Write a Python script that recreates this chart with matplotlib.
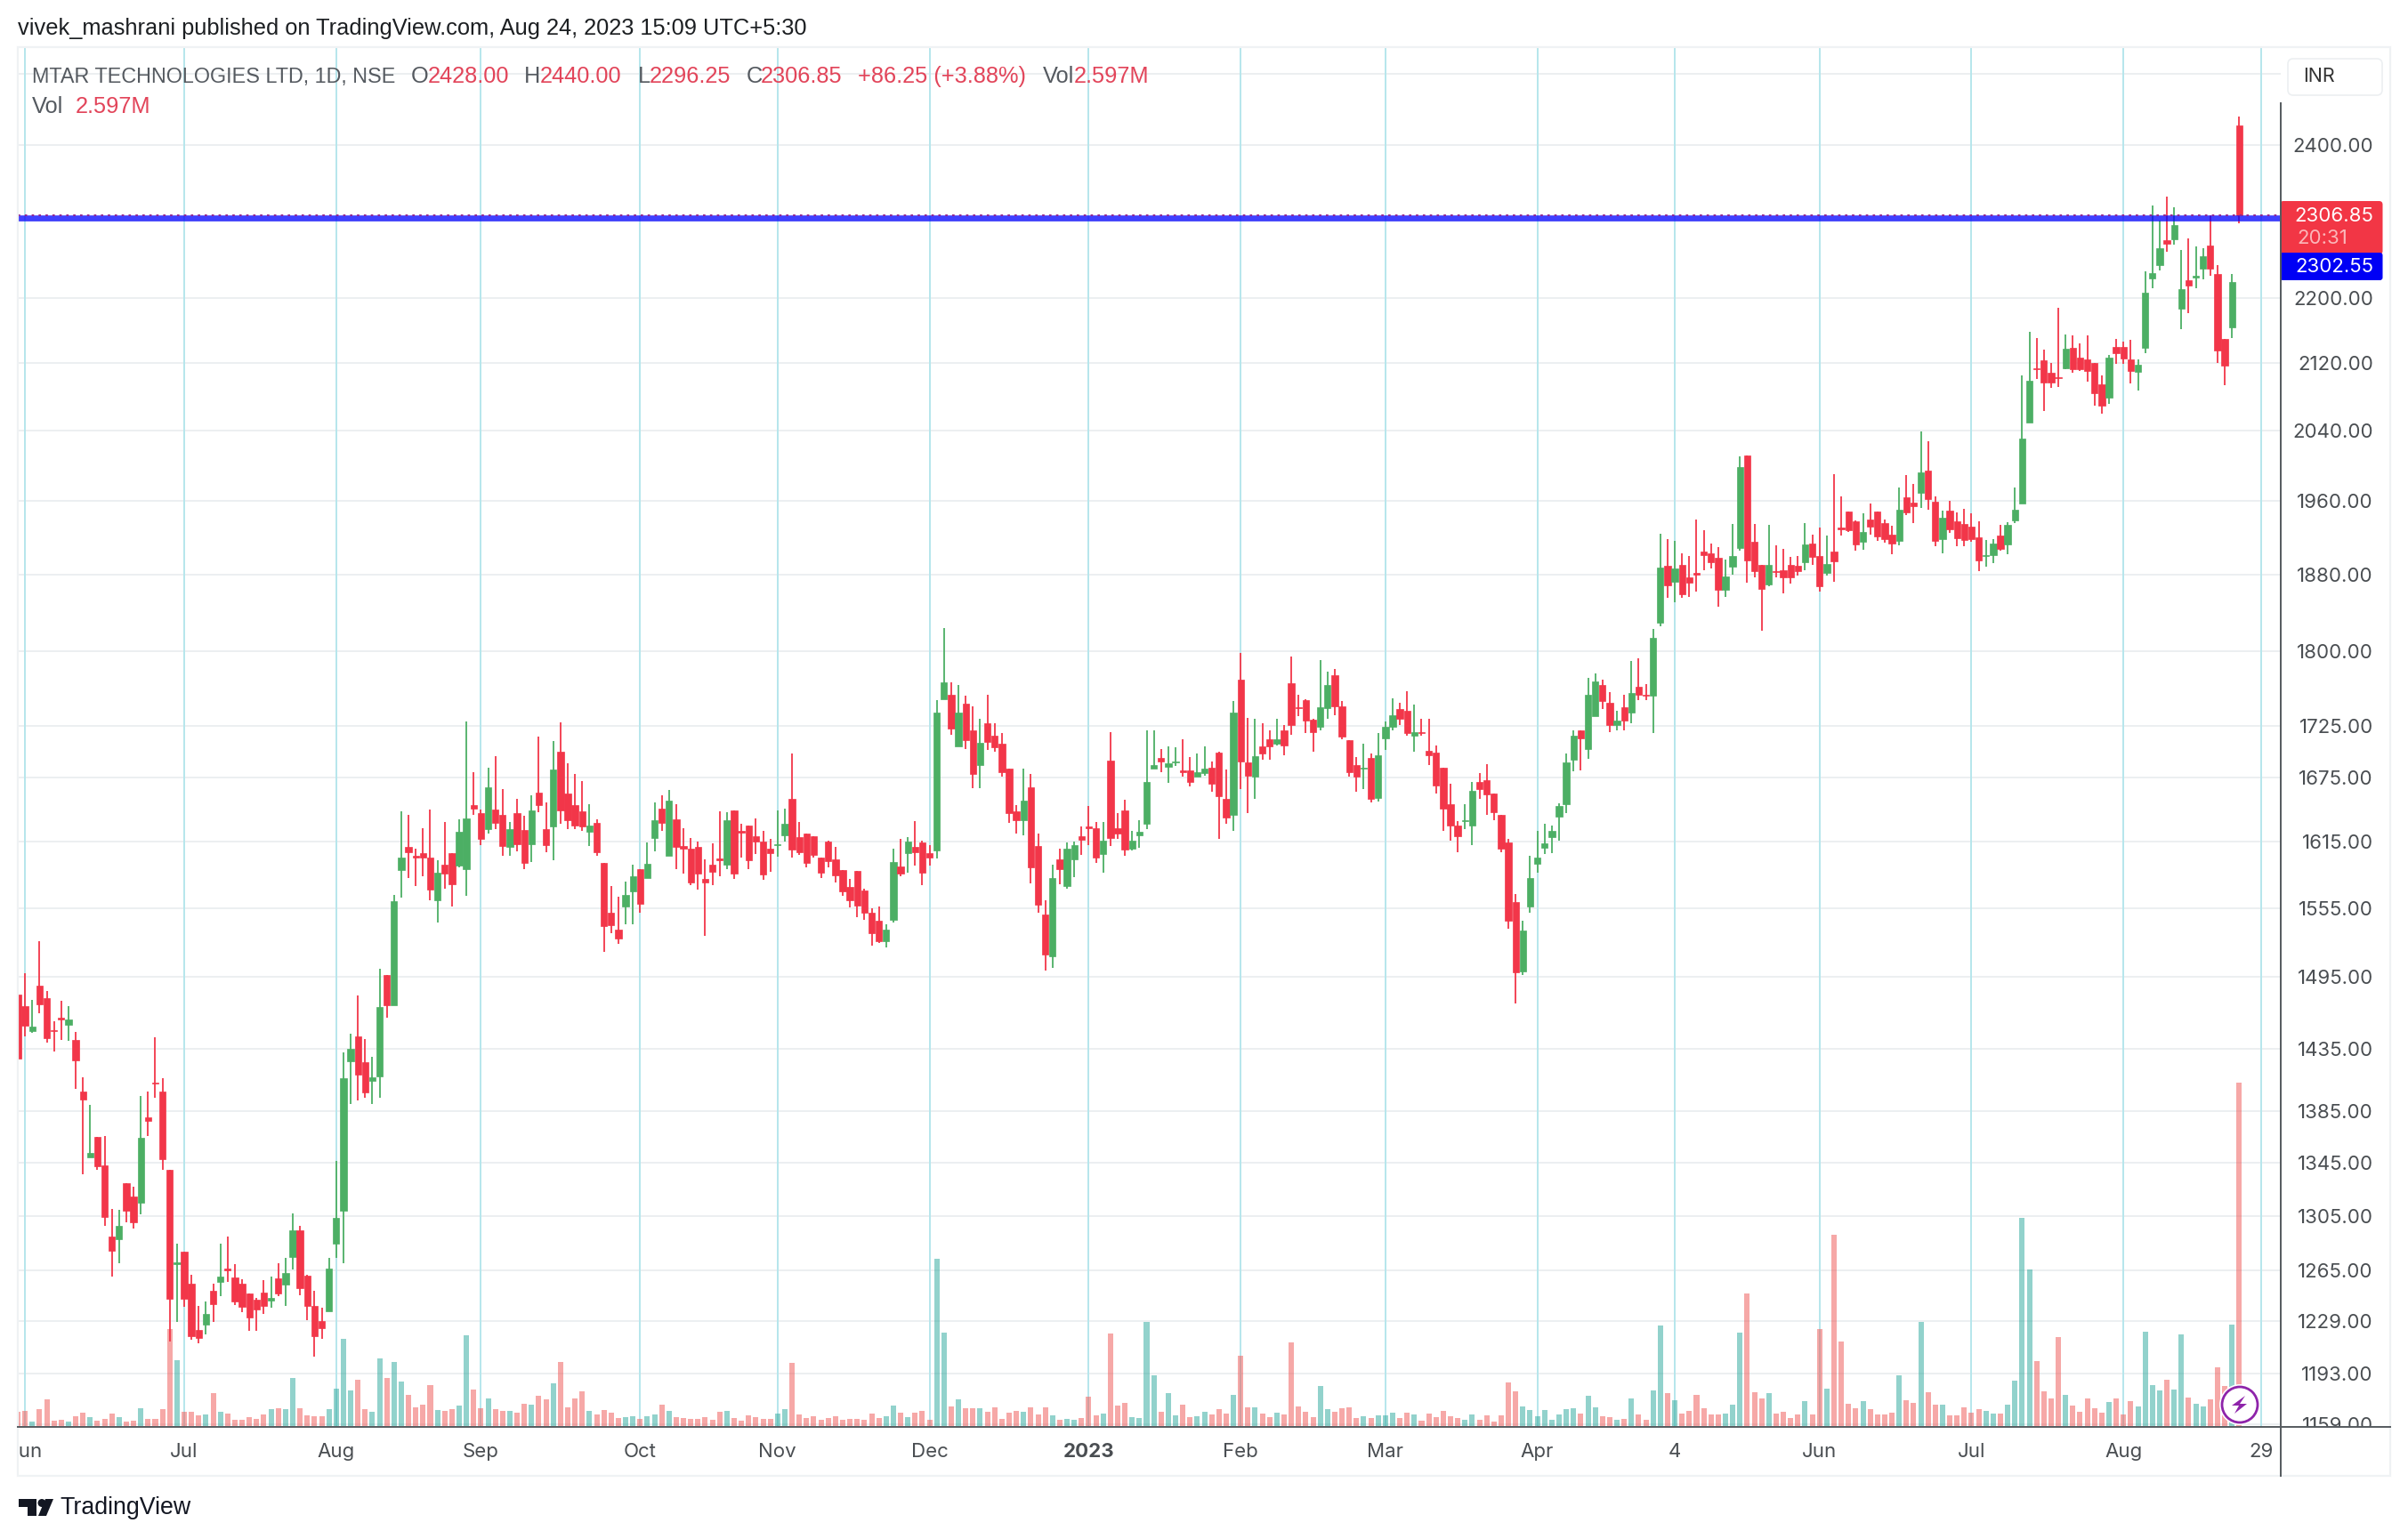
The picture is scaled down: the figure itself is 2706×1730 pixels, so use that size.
import matplotlib
matplotlib.use('Agg')
import matplotlib.pyplot as plt
from matplotlib.patches import Circle, FancyBboxPatch, Polygon, Rectangle
from matplotlib.ticker import NullLocator
from matplotlib.transforms import Bbox

# Daily prices, oldest first.
opens = [1480, 1470.5, 1450, 1487.5, 1477, 1450.5, 1460.5, 1455, 1442.5, 1400.5,
         1349, 1365, 1343, 1290, 1288, 1329.5, 1319.5, 1315, 1380, 1408,
         1400.5, 1339.5, 1269.5, 1279, 1255.5, 1223, 1226.5, 1250.5, 1257, 1266.5,
         1260, 1255.5, 1248.5, 1244, 1249, 1243.5, 1259.5, 1255, 1275, 1294,
         1261.5, 1240, 1229, 1236, 1284.5, 1309, 1425, 1445.5, 1424.5, 1409.5,
         1412.5, 1497, 1471, 1589, 1610, 1601.5, 1604.5, 1600.5, 1562, 1594,
         1604.5, 1593, 1589.5, 1649, 1641.5, 1626.5, 1644.5, 1639.5, 1610, 1641.5,
         1625.5, 1612.5, 1660.5, 1626.5, 1628.5, 1699.5, 1659.5, 1649, 1643, 1624,
         1632, 1595.5, 1551, 1536, 1556, 1570, 1590, 1582, 1618.5, 1645.5,
         1601.5, 1635.5, 1610.5, 1608.5, 1610, 1581, 1594, 1599.5, 1594, 1644,
         1624.5, 1629.5, 1620, 1615, 1608.5, 1611.5, 1621, 1655, 1619, 1622.5,
         1620, 1600, 1615, 1599, 1589, 1574, 1588, 1570.5, 1551, 1544,
         1525.5, 1544.5, 1592.5, 1604, 1610, 1614, 1604.5, 1606.5, 1751, 1755.5,
         1704.5, 1746.5, 1720, 1686.5, 1727, 1715.5, 1707.5, 1683.5, 1643, 1634.5,
         1665.5, 1611, 1549, 1513, 1599, 1574.5, 1598.5, 1620, 1628.5, 1627.5,
         1603.5, 1691, 1627.5, 1644, 1608.5, 1620.5, 1631, 1683, 1694, 1685,
         1689, 1681.5, 1681.5, 1675.5, 1679.5, 1684, 1699, 1655, 1640, 1770.5,
         1689, 1676, 1705, 1712, 1707.5, 1720.5, 1767, 1743.5, 1750, 1730.5,
         1724, 1742.5, 1775, 1744, 1710.5, 1687, 1683.5, 1694, 1655.5, 1712.5,
         1723.5, 1741, 1740, 1715, 1719, 1700.5, 1699, 1684, 1650, 1630,
         1634, 1629.5, 1670.5, 1672, 1660, 1640, 1614, 1560, 1500, 1556,
         1594.5, 1609.5, 1619, 1638, 1649.5, 1692, 1720, 1702.5, 1734, 1765,
         1748, 1725.5, 1743, 1737.5, 1764, 1756, 1754.5, 1829, 1889.5, 1872.5,
         1890.5, 1877, 1881.5, 1905, 1903, 1897.5, 1864, 1888, 1908.5, 2011.5,
         1915, 1890.5, 1869, 1884, 1884.5, 1890.5, 1889.5, 1893.5, 1913, 1899.5,
         1882, 1905, 1930.5, 1949, 1937.5, 1915.5, 1939.5, 1948.5, 1935.5, 1923,
         1916, 1964, 1958.5, 1969.5, 1994.5, 1959, 1918, 1950, 1937.5, 1934.5,
         1931.5, 1920, 1899.5, 1900.5, 1922, 1912.5, 1939, 1957.5, 2050, 2114.5,
         2123.5, 2108.5, 2103, 2114.5, 2138.5, 2126.5, 2124.5, 2120, 2094.5, 2079.5,
         2139.5, 2139.5, 2124.5, 2110, 2138.5, 2224.5, 2241.5, 2273.5, 2275, 2187,
         2223, 2226.5, 2237, 2267, 2231, 2149.5, 2164, 2428]
highs = [1480, 1498, 1476, 1526, 1483, 1458, 1475, 1470.5, 1449, 1412,
         1390, 1365, 1366, 1310, 1309.5, 1329.5, 1327, 1397, 1400.5, 1444.5,
         1411.5, 1339.5, 1284.5, 1279, 1262, 1240, 1243, 1255.5, 1284.5, 1289.5,
         1269.5, 1258.5, 1248.5, 1245.5, 1258, 1261, 1270, 1274, 1307, 1297.5,
         1262, 1250.5, 1238.5, 1274, 1346.5, 1432, 1447.5, 1479.5, 1443, 1428.5,
         1502, 1497, 1566.5, 1643, 1639.5, 1608.5, 1627, 1644.5, 1598, 1633,
         1604.5, 1635.5, 1729, 1680, 1644.5, 1684, 1695.5, 1664, 1633, 1654.5,
         1639, 1658, 1714.5, 1651.5, 1710, 1728, 1688.5, 1678, 1671.5, 1649.5,
         1635.5, 1595.5, 1574.5, 1565, 1578.5, 1594, 1590, 1614, 1651.5, 1658,
         1663, 1649.5, 1627, 1618, 1614.5, 1598.5, 1613, 1643, 1642, 1644,
         1631.5, 1629.5, 1636.5, 1625, 1617.5, 1644, 1645, 1697.5, 1633, 1622.5,
         1620, 1600, 1616, 1610, 1589, 1580.5, 1588, 1572, 1555, 1556.5,
         1540.5, 1608, 1617.5, 1619, 1634, 1616, 1612, 1750, 1823.5, 1768,
         1765, 1754.5, 1744.5, 1731.5, 1755.5, 1727.5, 1718, 1683.5, 1649, 1683.5,
         1678, 1622.5, 1562, 1594, 1608.5, 1614, 1615, 1629, 1647.5, 1633,
         1633, 1719, 1641.5, 1654, 1625, 1635, 1720, 1720, 1702.5, 1705,
         1704, 1712, 1694.5, 1697.5, 1705, 1690.5, 1700, 1682.5, 1749, 1797.5,
         1733, 1731.5, 1727.5, 1720, 1732, 1726, 1794.5, 1755.5, 1751, 1731.5,
         1790.5, 1778.5, 1782, 1749, 1710.5, 1694.5, 1707.5, 1697.5, 1718, 1729.5,
         1752, 1747.5, 1759, 1745.5, 1732, 1731.5, 1706, 1684, 1669, 1634,
         1650, 1670.5, 1679, 1687.5, 1660, 1640, 1617.5, 1567, 1544, 1601.5,
         1625, 1631.5, 1630, 1650.5, 1698, 1720, 1720, 1772.5, 1777.5, 1770.5,
         1758, 1740, 1755.5, 1790, 1792, 1766, 1823, 1924.5, 1918, 1916,
         1903, 1899.5, 1939.5, 1927.5, 1913, 1910, 1896.5, 1934.5, 2010.5, 2011.5,
         1934.5, 1890.5, 1933.5, 1911, 1908, 1898.5, 1899.5, 1935.5, 1923, 1930.5,
         1922, 1990, 1965, 1949, 1938.5, 1946.5, 1957, 1949, 1939.5, 1932.5,
         1975, 1989, 1979, 2039.5, 2028.5, 1965, 1950, 1960, 1948, 1952,
         1946.5, 1937.5, 1917, 1918, 1933.5, 1936.5, 1975, 2106, 2158, 2150.5,
         2136.5, 2121, 2188.5, 2155, 2154, 2144, 2154, 2120, 2105.5, 2130,
         2149.5, 2146, 2148.5, 2124.5, 2234.5, 2319, 2299.5, 2331, 2317, 2261,
         2276, 2266, 2263.5, 2307, 2241.5, 2149.5, 2231, 2440]
lows = [1414, 1445.5, 1448.5, 1464.5, 1440, 1433, 1442.5, 1442, 1402.5, 1336.5,
        1349, 1339.5, 1297.5, 1261, 1270.5, 1300, 1295.5, 1306.5, 1365.5, 1396,
        1339.5, 1215, 1228.5, 1239, 1216, 1213.5, 1220, 1228.5, 1247, 1257,
        1240.5, 1235.5, 1222.5, 1222.5, 1234, 1238.5, 1247, 1240, 1266, 1247.5,
        1230, 1204.5, 1217, 1236, 1274, 1270.5, 1391, 1393.5, 1396, 1390.5,
        1396, 1460.5, 1471, 1564, 1582, 1574.5, 1583, 1561.5, 1542, 1572.5,
        1556, 1591, 1565.5, 1640, 1612, 1622.5, 1626.5, 1602, 1602, 1606,
        1590, 1596, 1642.5, 1605.5, 1597.5, 1631.5, 1626, 1626, 1625, 1611,
        1601.5, 1516.5, 1532.5, 1523.5, 1540.5, 1540.5, 1550.5, 1582, 1606, 1625,
        1601.5, 1590, 1585.5, 1575, 1571, 1530.5, 1575.5, 1583, 1590, 1580.5,
        1600, 1589.5, 1603.5, 1580, 1587, 1601, 1614.5, 1600, 1602.5, 1591.5,
        1600, 1581.5, 1591.5, 1577.5, 1565.5, 1555.5, 1547, 1544.5, 1522, 1524,
        1520.5, 1542, 1583, 1586.5, 1593, 1575, 1593, 1599.5, 1751, 1716,
        1704.5, 1702, 1665, 1665, 1701, 1700, 1676, 1632, 1622.5, 1621,
        1577, 1550.5, 1500.5, 1503, 1576.5, 1572, 1582.5, 1602.5, 1611.5, 1595,
        1586.5, 1610.5, 1617, 1601.5, 1606.5, 1609.5, 1626, 1683, 1680, 1670,
        1685.5, 1676, 1666, 1675.5, 1676.5, 1661.5, 1617, 1631, 1625, 1663.5,
        1641, 1655, 1691.5, 1691.5, 1705.5, 1696, 1716, 1734, 1717.5, 1700,
        1720, 1731.5, 1735, 1711.5, 1676, 1661.5, 1663.5, 1651, 1652, 1701,
        1720, 1726, 1715, 1700, 1715, 1686.5, 1660, 1624.5, 1615.5, 1605,
        1626, 1611.5, 1654.5, 1640, 1635, 1605.5, 1537, 1473, 1497, 1550.5,
        1586.5, 1603.5, 1604, 1616, 1641, 1681, 1682, 1692.5, 1734, 1741.5,
        1719, 1720, 1720, 1727, 1750, 1750, 1717.5, 1825.5, 1855, 1850.5,
        1855, 1856, 1861.5, 1885, 1886, 1845.5, 1856, 1880, 1905.5, 1871.5,
        1876.5, 1820.5, 1867, 1876.5, 1859.5, 1870.5, 1879, 1885, 1890, 1861.5,
        1879, 1872.5, 1922, 1926, 1905.5, 1906.5, 1923, 1916, 1914.5, 1901.5,
        1911.5, 1944.5, 1936, 1952.5, 1950.5, 1910.5, 1902.5, 1925, 1910.5, 1910.5,
        1915.5, 1884, 1888, 1892, 1905.5, 1901.5, 1936, 1957.5, 2050, 2101,
        2063.5, 2091, 2092, 2112.5, 2108.5, 2111, 2098, 2070, 2060.5, 2072,
        2119, 2119, 2096, 2087.5, 2132, 2212.5, 2235.5, 2259, 2268.5, 2161.5,
        2182, 2212.5, 2224, 2228.5, 2120, 2094, 2150.5, 2296.25]
closes = [1427, 1454, 1453.5, 1472, 1444, 1449.5, 1459, 1459.5, 1426, 1394,
          1352.5, 1342.5, 1304, 1279.5, 1297.5, 1308.5, 1300.5, 1364, 1377.5, 1407,
          1348, 1245, 1271, 1245, 1218.5, 1217.5, 1234, 1241, 1261, 1265,
          1243, 1239, 1231.5, 1237.5, 1240, 1245.5, 1248.5, 1263.5, 1294, 1252.5,
          1240, 1218.5, 1224.5, 1266.5, 1303.5, 1411.5, 1435.5, 1414.5, 1400, 1412,
          1469.5, 1471, 1561, 1600.5, 1605.5, 1600, 1600.5, 1571, 1586.5, 1585.5,
          1576.5, 1624, 1636.5, 1645, 1617.5, 1665.5, 1632.5, 1611, 1626.5, 1612.5,
          1595, 1644, 1649, 1612, 1682.5, 1643.5, 1635, 1630, 1629, 1629.5,
          1605.5, 1539, 1539.5, 1528.5, 1566.5, 1583.5, 1559, 1594.5, 1634.5, 1632.5,
          1653, 1610, 1608, 1577.5, 1586, 1578, 1587.5, 1597.5, 1634.5, 1586,
          1623, 1598, 1614.5, 1585, 1604, 1612.5, 1631.5, 1607.5, 1605, 1595.5,
          1602.5, 1586.5, 1597, 1584, 1569.5, 1561.5, 1557, 1550.5, 1533, 1526,
          1536, 1596.5, 1585.5, 1615, 1605.5, 1586.5, 1600.5, 1737.5, 1768, 1722.5,
          1737.5, 1710.5, 1678.5, 1708.5, 1709.5, 1703.5, 1680, 1641, 1635, 1653,
          1591.5, 1557.5, 1514, 1582, 1589.5, 1608, 1612, 1616.5, 1627, 1600,
          1616, 1618.5, 1622.5, 1607.5, 1616, 1623.5, 1670.5, 1687, 1690.5, 1688.5,
          1690.5, 1680, 1671, 1680, 1683.5, 1668.5, 1657.5, 1637, 1737.5, 1690,
          1676.5, 1695.5, 1697.5, 1704.5, 1712, 1706, 1725.5, 1742, 1730, 1718.5,
          1743, 1765, 1744, 1714, 1680, 1676, 1684.5, 1655, 1696.5, 1724,
          1735, 1732, 1717.5, 1718.5, 1717.5, 1696.5, 1667.5, 1645, 1629.5, 1619.5,
          1635, 1662.5, 1664, 1658.5, 1642.5, 1608, 1543.5, 1499, 1535, 1581.5,
          1600.5, 1613.5, 1625, 1647.5, 1689.5, 1715.5, 1712.5, 1755.5, 1769, 1749,
          1725.5, 1730, 1730, 1757, 1755.5, 1754.5, 1813, 1887.5, 1868, 1886.5,
          1858.5, 1871.5, 1880, 1900.5, 1893.5, 1864, 1878, 1899.5, 1998.5, 1895.5,
          1884, 1865, 1890.5, 1882.5, 1877, 1876.5, 1884, 1912, 1898.5, 1867,
          1891.5, 1894.5, 1929, 1928, 1912.5, 1926.5, 1932, 1921, 1918, 1913.5,
          1951, 1947.5, 1954.5, 1992.5, 1962.5, 1916, 1941.5, 1929, 1919, 1917,
          1918, 1895.5, 1901, 1913, 1907.5, 1933.5, 1951, 2031.5, 2099, 2112.5,
          2097, 2097, 2102, 2137.5, 2112.5, 2113.5, 2111, 2084.5, 2070, 2126.5,
          2132.5, 2125.5, 2111, 2118, 2207.5, 2232, 2263.5, 2269.5, 2293.5, 2211,
          2216.5, 2228.5, 2253, 2237, 2135.5, 2117, 2220.5, 2306.85]
# Traded volume in thousands of shares.
volumes = [108, 112, 36, 130, 204, 38, 45, 31, 72, 99,
           65, 38, 52, 92, 65, 31, 38, 132, 52, 52,
           126, 731, 496, 105, 105, 79, 85, 247, 105, 92,
           45, 45, 65, 52, 85, 126, 132, 126, 361, 132,
           79, 72, 72, 126, 280, 657, 267, 348, 126, 105,
           509, 361, 482, 334, 233, 139, 159, 307, 119, 112,
           126, 153, 684, 274, 132, 206, 126, 112, 112, 99,
           166, 159, 227, 200, 321, 482, 139, 206, 260, 112,
           85, 119, 99, 58, 65, 72, 52, 72, 85, 159,
           112, 65, 58, 52, 52, 65, 45, 105, 112, 58,
           38, 79, 65, 52, 52, 92, 126, 476, 85, 58,
           72, 45, 58, 72, 45, 52, 52, 45, 92, 58,
           72, 153, 99, 65, 99, 112, 45, 1265, 704, 146,
           200, 132, 132, 132, 105, 139, 52, 99, 112, 105,
           139, 85, 139, 79, 45, 52, 45, 58, 220, 79,
           92, 698, 153, 173, 65, 58, 785, 381, 105, 247,
           79, 159, 65, 72, 105, 85, 126, 92, 233, 529,
           139, 139, 92, 65, 99, 85, 630, 146, 105, 65,
           301, 126, 105, 132, 139, 58, 72, 58, 79, 79,
           99, 58, 99, 85, 38, 92, 65, 112, 72, 58,
           45, 85, 45, 79, 31, 79, 327, 260, 146, 119,
           72, 119, 45, 85, 126, 132, 92, 227, 139, 72,
           65, 45, 52, 206, 85, 45, 267, 758, 247, 193,
           92, 112, 233, 132, 85, 85, 92, 159, 704, 1000,
           253, 206, 247, 92, 105, 58, 85, 186, 85, 731,
           280, 1447, 637, 166, 132, 186, 126, 85, 85, 99,
           381, 193, 173, 785, 253, 159, 159, 79, 79, 139,
           99, 126, 112, 92, 92, 159, 341, 1575, 1182, 489,
           260, 206, 671, 233, 153, 105, 206, 132, 99, 179,
           206, 85, 186, 146, 711, 307, 267, 348, 274, 691,
           213, 166, 146, 200, 442, 301, 765, 2597]

# Date axis: bar number of each labelled session.
month_idx = [1, 23, 44, 64, 86, 105, 126, 148, 169, 189, 210, 229, 249, 270, 291, 310]
month_labels = ['Jun', 'Jul', 'Aug', 'Sep', 'Oct', 'Nov', 'Dec', '2023', 'Feb', 'Mar',
                'Apr', '4', 'Jun', 'Jul', 'Aug', '29']
price_ticks = [2400, 2200, 2120, 2040, 1960, 1880, 1800, 1725, 1675, 1615, 1555, 1495,
               1435, 1385, 1345, 1305, 1265, 1229, 1193, 1159]
hidden_grid = [2500, 2300]
last_price = 2306.85
level_price = 2302.55

RED = '#f23649'
GREEN = '#4caf64'
VOL_RED = '#ef5350'
VOL_GREEN = '#26a69a'
AXIS = '#555a5e'
W, H = 2706, 1730
BODY_FONT = 'Liberation Sans'

fig = plt.figure(figsize=(W / 100, H / 100), dpi=100, facecolor='white')
rect = [20 / W, (H - 1604) / H, 2542.7 / W, 1551 / H]
xlim = (0, 312.7)
ylim = (1157.3, 2538.1)

# Grid sits at the back, then volume, then the candles.
gax = fig.add_axes(rect, zorder=0)
vax = fig.add_axes(rect, zorder=1)
ax = fig.add_axes(rect, zorder=2)
for a in (gax, vax, ax):
    a.set_xlim(*xlim)
    a.patch.set_visible(False)
    for s in a.spines.values():
        s.set_visible(False)
for a in (gax, ax):
    a.set_yscale('log')
    a.set_ylim(*ylim)
    a.yaxis.set_minor_locator(NullLocator())
vax.set_ylim(-7, 10430)
gax.set_xticks([])
gax.set_yticks([])
vax.set_xticks([])
vax.set_yticks([])
gax.hlines(price_ticks + hidden_grid, *xlim, color='#e9ecef', lw=1.2)
gax.vlines(month_idx, *ylim, color='#b6e6ec', lw=1.4)

x = list(range(len(closes)))
up = [c >= o for o, c in zip(opens, closes)]
colors = [GREEN if u else RED for u in up]
vcolors = [VOL_GREEN if u else VOL_RED for u in up]

vax.bar(x, volumes, width=0.74, color=vcolors, alpha=0.5, linewidth=0)

ax.vlines(x, lows, highs, color=colors, lw=1.3, zorder=2)
ax.bar(x, [abs(c - o) for o, c in zip(opens, closes)],
       bottom=[min(o, c) for o, c in zip(opens, closes)],
       width=0.9, color=colors, edgecolor=colors, linewidth=0.5, zorder=3)

# Horizontal level and the dotted last-price line over the candles.
ax.axhline(level_price, color='#0000ff', alpha=0.75, lw=4.8, zorder=4)
ax.axhline(last_price, color='#93268f', lw=1.4, ls=(0, (1.4, 2.6)), zorder=5)

# Price scale, right aligned; the lowest label is cut by the time axis.
ax.yaxis.tick_right()
ax.set_yticks(price_ticks)
ax.set_yticklabels([f'{t:.2f}' for t in price_ticks], family='Inter', fontsize=16,
                   color='#4a4e52', ha='right')
ax.tick_params(axis='y', length=0, pad=75)
for lab in ax.get_yticklabels():
    lab.set_clip_on(True)
    lab.set_clip_box(Bbox([[2563, H - 1604], [W, H]]))

# Time scale.
ax.set_xticks(month_idx)
ax.set_xticklabels(month_labels, family='Inter', fontsize=16, color='#4a4e52')
ax.tick_params(axis='x', length=0, pad=13)
for lab, name in zip(ax.get_xticklabels(), month_labels):
    if name == '2023':
        lab.set_fontweight('bold')
    lab.set_clip_on(True)
    lab.set_clip_box(Bbox([[20, 0], [2560, H]]))

# Pixel-space layer for the frame, badges, header and logo.
top = fig.add_axes([0, 0, 1, 1], zorder=5)
top.set_xlim(0, W)
top.set_ylim(H, 0)
top.axis('off')
top.add_patch(Rectangle((20, 53), 2666, 1606, fill=False, ec='#eff2f4', lw=1.6))
top.plot([20, 2686], [1604, 1604], color=AXIS, lw=1.4)
top.plot([2562.7, 2562.7], [116, 1659], color=AXIS, lw=1.4)

top.add_patch(FancyBboxPatch((2571, 66), 106, 41, boxstyle='round,pad=0,rounding_size=6',
                             fc='white', ec='#eceff1', lw=1.2))
top.text(2606, 85.5, 'INR', family='Inter', fontsize=15.5, color='#333', ha='center', va='center')

top.add_patch(FancyBboxPatch((2562, 226), 115.5, 60, boxstyle='round,pad=0,rounding_size=4',
                             fc='#f23645', ec='none'))
top.add_patch(FancyBboxPatch((2562, 284), 115.5, 31, boxstyle='round,pad=0,rounding_size=3',
                             fc='#0000f5', ec='none'))
top.text(2667, 243, '2306.85', family='Inter', fontsize=16, color='white', ha='right', va='center')
top.text(2638, 268, '20:31', family='Inter', fontsize=16, color='#fbb6b9', ha='right', va='center')
top.text(2667, 299.5, '2302.55', family='Inter', fontsize=16, color='white', ha='right', va='center')

top.text(20, 32, 'vivek_mashrani published on TradingView.com, Aug 24, 2023 15:09 UTC+5:30',
         family=BODY_FONT, fontsize=18.3, color='#1c1f22', va='center')

LABEL = '#555a60'
VALUE = '#e2455a'
header = [(461.5, 'O', LABEL), (481, '2428.00', VALUE), (589, 'H', LABEL), (607, '2440.00', VALUE),
          (717, 'L', LABEL), (730, '2296.25', VALUE), (839, 'C', LABEL),
          (855, '2306.85', VALUE), (964, '+86.25 (+3.88%)', VALUE),
          (1172, 'Vol', LABEL), (1207, '2.597M', VALUE)]
top.text(36, 86, 'MTAR TECHNOLOGIES LTD, 1D, NSE', family=BODY_FONT, fontsize=16.8,
         color=LABEL, va='center')
for hx, txt, col in header:
    top.text(hx, 86, txt, family=BODY_FONT, fontsize=18.3, color=col, va='center')
top.text(36, 120, 'Vol', family=BODY_FONT, fontsize=18.3, color=LABEL, va='center')
top.text(85, 120, '2.597M', family=BODY_FONT, fontsize=18.3, color=VALUE, va='center')

# Round lightning badge near the last bar.
top.add_patch(Circle((2517, 1579), 23, fc='white', ec='none'))
top.add_patch(Circle((2517, 1579), 20, fc='white', ec='#8e24aa', lw=2))
top.add_patch(Polygon([(2523, 1569), (2508, 1580), (2516, 1580), (2511, 1589),
                       (2525, 1578), (2517, 1578)], closed=True, fc='#8e24aa', ec='none'))

# TradingView mark and wordmark.
top.add_patch(Polygon([(21, 1685), (41, 1685), (41, 1704), (31, 1704), (31, 1694), (21, 1694)],
                      closed=True, fc='#131722', ec='none'))
top.add_patch(Circle((47, 1689.5), 4.5, fc='#131722', ec='none'))
top.add_patch(Polygon([(51, 1685), (60, 1685), (52, 1704), (43, 1704)], closed=True,
                      fc='#131722', ec='none'))
top.text(67, 1695, 'TradingView', family=BODY_FONT, fontsize=19.3, color='#131722', va='center')

fig.savefig('out.png', dpi=100, facecolor='white')
